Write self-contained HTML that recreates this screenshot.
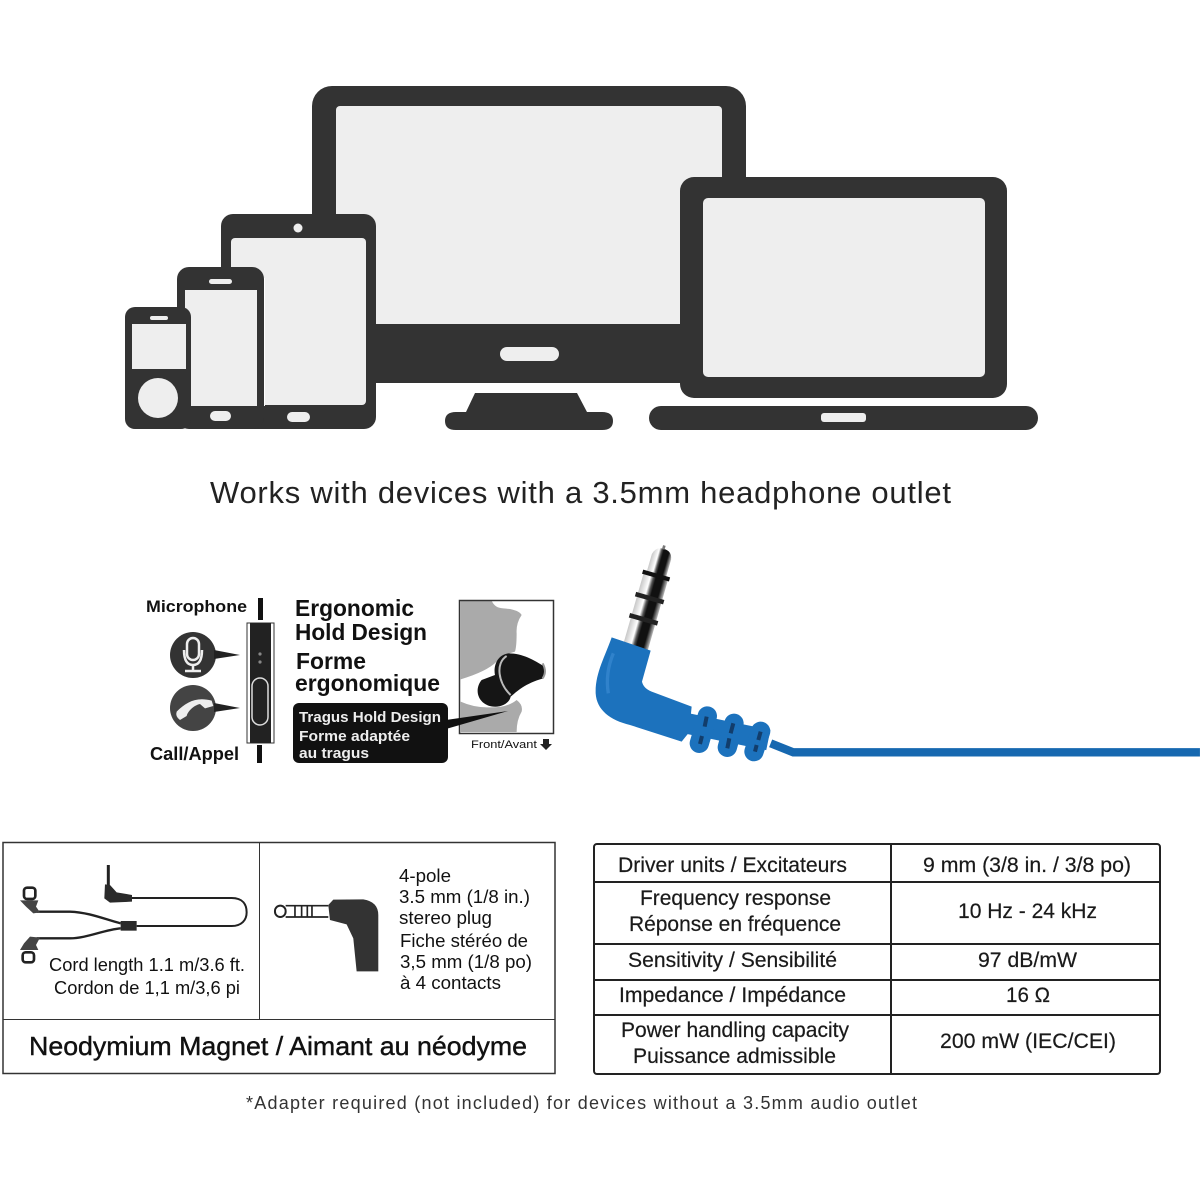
<!DOCTYPE html>
<html><head><meta charset="utf-8"><style>
html,body{margin:0;padding:0;background:#fff}
svg{display:block}
text{font-family:"Liberation Sans",sans-serif;fill:#111}
.b{font-weight:bold}
.t{font-size:21px;fill:#1a1a1a;stroke:#1a1a1a;stroke-width:.2}
</style></head><body>
<svg width="1200" height="1200" viewBox="0 0 1200 1200" xmlns="http://www.w3.org/2000/svg">
<defs>
<linearGradient id="m" x1="0" x2="1" y1="0" y2="0"><stop offset="0" stop-color="#c8c8c8"/><stop offset=".3" stop-color="#fff"/><stop offset=".42" stop-color="#555"/><stop offset=".52" stop-color="#111"/><stop offset=".8" stop-color="#111"/><stop offset="1" stop-color="#bbb"/></linearGradient>
</defs>
<rect width="1200" height="1200" fill="#fff"/>
<!-- monitor -->
<rect x="312" y="86" width="434" height="297" rx="20" fill="#333"/>
<rect x="336" y="106" width="386" height="218" rx="4" fill="#eee"/>
<rect x="500" y="347" width="59" height="14" rx="7" fill="#eee"/>
<path d="M475 393H577L587 412H602Q613 412 613 421 613 430 602 430H456Q445 430 445 421 445 412 456 412H466Z" fill="#333"/>
<!-- laptop -->
<rect x="680" y="177" width="327" height="221" rx="14" fill="#333"/>
<rect x="703" y="198" width="282" height="179" rx="5" fill="#eee"/>
<rect x="649" y="406" width="389" height="24" rx="12" fill="#333"/>
<rect x="821" y="413" width="45" height="9" rx="3" fill="#eee"/>
<!-- tablet -->
<rect x="221" y="214" width="155" height="215" rx="12" fill="#333"/>
<rect x="231" y="238" width="135" height="167" rx="4" fill="#eee"/>
<circle cx="298" cy="228" r="4.5" fill="#eee"/>
<rect x="287" y="412" width="23" height="10" rx="5" fill="#eee"/>
<!-- phone -->
<rect x="177" y="267" width="87" height="162" rx="12" fill="#333"/>
<rect x="264" y="278" width="1" height="128" fill="#fff"/>
<rect x="185" y="290" width="72" height="116" fill="#eee"/>
<rect x="209" y="279" width="23" height="5" rx="2.500" fill="#eee"/>
<rect x="210" y="411" width="21" height="10" rx="5" fill="#eee"/>
<!-- ipod -->
<rect x="125" y="307" width="66" height="122" rx="10" fill="#333"/>
<rect x="132" y="324" width="54" height="45" fill="#eee"/>
<rect x="150" y="316" width="18" height="4" rx="2" fill="#eee"/>
<circle cx="158" cy="398" r="20" fill="#eee"/>

<text x="210" y="503" font-size="31" textLength="741" lengthAdjust="spacing" style="fill:#222">Works with devices with a 3.5mm headphone outlet</text>

<!-- mic / call -->
<text class="b" x="146" y="612" font-size="17" textLength="101" lengthAdjust="spacingAndGlyphs">Microphone</text>
<text class="b" x="150" y="760" font-size="18" textLength="89" lengthAdjust="spacingAndGlyphs">Call/Appel</text>
<rect x="258" y="598" width="5" height="22" fill="#111"/>
<rect x="257" y="745" width="5" height="18" fill="#111"/>
<circle cx="193" cy="655" r="23" fill="#333"/>
<path d="M214 650L240 655 214 659Z" fill="#222"/>
<rect x="187" y="638" width="12" height="22" rx="6" fill="none" stroke="#eee" stroke-width="2.500"/>
<path d="M184 650Q184 665 193 665 202 665 202 650M193 665V670M185 671H201" fill="none" stroke="#eee" stroke-width="2.500"/>
<circle cx="193" cy="708" r="23" fill="#444"/>
<path d="M214 703L240 708 214 712Z" fill="#222"/>
<g transform="translate(120 580) scale(.3333)">
<path d="M170 395C200 365 230 350 275 362L280 378 255 385 240 372C225 375 205 390 200 408L180 420Q165 410 170 395Z" fill="#eee"/>
<!-- ear -->
<path d="M1022 62H1115Q1125 85 1150 85 1195 88 1205 105 1188 130 1190 160 1190 200 1185 215 1150 225 1130 245 1100 275 1022 298Z" fill="#aaa"/>
<path d="M1022 365Q1060 382 1100 382 1160 385 1190 360 1210 375 1205 395 1190 420 1190 456H1022Z" fill="#aaa"/>
<path d="M1165 220C1130 225 1120 260 1125 285L1085 300C1060 330 1075 375 1120 380 1150 382 1170 365 1172 350 1190 335 1215 310 1270 295L1275 260C1240 240 1210 220 1165 220Z" fill="#151515"/>
<path d="M1160 228C1125 250 1135 310 1172 345" fill="none" stroke="#bbb" stroke-width="6"/>
<path d="M1268 250Q1282 275 1268 295" fill="none" stroke="#999" stroke-width="6"/>
</g>
<rect x="247" y="623" width="27" height="120" fill="#fff" stroke="#333" stroke-width="1"/>
<rect x="250" y="623" width="21" height="120" fill="#222"/>
<circle cx="260" cy="654" r="1.600" fill="#888"/><circle cx="260" cy="662" r="1.600" fill="#888"/>
<rect x="252" y="678" width="16" height="47" rx="8" fill="#222" stroke="#ddd" stroke-width="1.500"/>
<text class="b" x="295" y="616" font-size="23" textLength="119" lengthAdjust="spacingAndGlyphs">Ergonomic</text>
<text class="b" x="295" y="640" font-size="23" textLength="132" lengthAdjust="spacingAndGlyphs">Hold Design</text>
<text class="b" x="296" y="669" font-size="23" textLength="70" lengthAdjust="spacingAndGlyphs">Forme</text>
<text class="b" x="295" y="691" font-size="23" textLength="145" lengthAdjust="spacingAndGlyphs">ergonomique</text>
<rect x="459.500" y="600.500" width="94" height="133" fill="none" stroke="#333" stroke-width="1.500"/>
<rect x="293" y="703" width="155" height="60" rx="6" fill="#111"/>
<path d="M446 720L508 711 446 729Z" fill="#111"/>
<text class="b" x="299" y="722" font-size="15" textLength="142" lengthAdjust="spacingAndGlyphs" style="fill:#eee">Tragus Hold Design</text>
<text class="b" x="299" y="741" font-size="15" textLength="111" lengthAdjust="spacingAndGlyphs" style="fill:#eee">Forme adaptée</text>
<text class="b" x="299" y="758" font-size="15" textLength="70" lengthAdjust="spacingAndGlyphs" style="fill:#eee">au tragus</text>
<text x="471" y="748" font-size="11" textLength="66" lengthAdjust="spacingAndGlyphs">Front/Avant</text>
<path d="M543 739H549V744H552L546 750 540 744H543Z" fill="#222"/>

<!-- jack -->
<g transform="translate(580 530) scale(.3333)">
<g transform="rotate(16 170 340)">
<path d="M132 350V125H208V350Z" fill="url(#m)"/>
<path d="M140 125V70Q145 45 170 45 196 45 200 70V125Z" fill="url(#m)"/>
<rect x="128" y="122" width="84" height="13" fill="#111"/>
<rect x="126" y="192" width="88" height="14" fill="#222"/>
<rect x="126" y="258" width="88" height="14" fill="#222"/>
<rect x="165" y="35" width="8" height="12" fill="#777"/>
</g>
<path d="M95 322L212 362 186 455Q190 475 215 485L335 530 332 560 345 585 305 635 150 585C90 570 50 540 47 490 45 430 75 380 95 322Z" fill="#1c72bd"/>
<path d="M320 580L565 630" stroke="#1c72bd" stroke-width="62" fill="none"/>
<path d="M382 558L358 640M462 580L442 652M542 604L522 665" stroke="#1c72bd" stroke-width="58" stroke-linecap="round" fill="none"/>
<path d="M380 560L374 590M366 618L360 642M460 580L452 610M448 625L442 655M542 605L535 630M530 645L525 665" stroke="#123d6b" stroke-width="12" fill="none"/>
<path d="M572 640L640 667H1860" stroke="#1668b0" stroke-width="25" fill="none"/>
<path d="M100 370Q75 430 85 490" stroke="#3d8ed4" stroke-width="10" fill="none" opacity=".6"/>
</g>

<!-- left table -->
<rect x="3" y="842.500" width="552" height="231" fill="none" stroke="#333" stroke-width="1.500"/>
<path d="M259.500 843V1019M3 1019.500H555" stroke="#333" stroke-width="1" fill="none"/>
<g transform="translate(0 835) scale(.3333)" fill="#2a2a2a">
<path d="M325 90V150" stroke="#222" stroke-width="9" fill="none"/>
<path d="M315 148L330 150 350 172 396 180V200L330 203 313 190Z"/>
<path d="M396 189H695C730 189 740 210 740 232 740 255 725 273 695 273H410" stroke="#222" stroke-width="6" fill="none"/>
<rect x="362" y="258" width="48" height="29"/>
<path d="M362 265C320 255 270 232 210 230H110M362 280C310 285 260 310 210 310H110" stroke="#222" stroke-width="7" fill="none"/>
<rect x="72" y="158" width="34" height="34" rx="9" fill="none" stroke="#222" stroke-width="8"/>
<path d="M60 196H115L108 215 120 232 100 235 78 215Z" fill="#444"/>
<rect x="68" y="352" width="34" height="30" rx="9" fill="none" stroke="#222" stroke-width="8"/>
<path d="M60 345H115L108 330 120 308 90 305 72 325Z" fill="#444"/>
<rect x="825" y="212" width="32" height="34" rx="16" fill="none" stroke="#222" stroke-width="6"/>
<path d="M857 212H985M857 246H985M885 212V246M905 212V246M922 212V246M936 212V246" stroke="#222" stroke-width="5" fill="none"/>
<path d="M985 210L1000 194 1090 193Q1135 200 1135 240V409H1070L1060 310 1040 268 990 255Z" fill="#333"/>
</g>
<g font-size="18">
<text x="49" y="971" textLength="196" lengthAdjust="spacingAndGlyphs">Cord length 1.1 m/3.6 ft.</text>
<text x="54" y="994" textLength="186" lengthAdjust="spacingAndGlyphs">Cordon de 1,1 m/3,6 pi</text>
<text x="399" y="882" textLength="52" lengthAdjust="spacingAndGlyphs">4-pole</text>
<text x="399" y="903" textLength="131" lengthAdjust="spacingAndGlyphs">3.5 mm (1/8 in.)</text>
<text x="399" y="924" textLength="93" lengthAdjust="spacingAndGlyphs">stereo plug</text>
<text x="400" y="947" textLength="128" lengthAdjust="spacingAndGlyphs">Fiche stéréo de</text>
<text x="400" y="968" textLength="132" lengthAdjust="spacingAndGlyphs">3,5 mm (1/8 po)</text>
<text x="400" y="989" textLength="101" lengthAdjust="spacingAndGlyphs">à 4 contacts</text>
</g>
<text x="29" y="1055" font-size="26" textLength="498" lengthAdjust="spacingAndGlyphs" style="stroke:#111;stroke-width:.4">Neodymium Magnet / Aimant au néodyme</text>

<!-- right table -->
<rect x="594" y="844" width="566" height="230" rx="3" fill="none" stroke="#222" stroke-width="2"/>
<path d="M891 844V1074M594 882H1160M594 944H1160M594 980H1160M594 1015H1160" stroke="#222" stroke-width="2" fill="none"/>
<text class="t" x="618" y="872" textLength="229" lengthAdjust="spacingAndGlyphs">Driver units / Excitateurs</text>
<text class="t" x="923" y="872" textLength="208" lengthAdjust="spacingAndGlyphs">9 mm (3/8 in. / 3/8 po)</text>
<text class="t" x="640" y="905" textLength="191" lengthAdjust="spacingAndGlyphs">Frequency response</text>
<text class="t" x="629" y="931" textLength="212" lengthAdjust="spacingAndGlyphs">Réponse en fréquence</text>
<text class="t" x="958" y="918" textLength="139" lengthAdjust="spacingAndGlyphs">10 Hz - 24 kHz</text>
<text class="t" x="628" y="967" textLength="209" lengthAdjust="spacingAndGlyphs">Sensitivity / Sensibilité</text>
<text class="t" x="978" y="967" textLength="99" lengthAdjust="spacingAndGlyphs">97 dB/mW</text>
<text class="t" x="619" y="1002" textLength="227" lengthAdjust="spacingAndGlyphs">Impedance / Impédance</text>
<text class="t" x="1006" y="1002" textLength="44" lengthAdjust="spacingAndGlyphs">16 Ω</text>
<text class="t" x="621" y="1037" textLength="228" lengthAdjust="spacingAndGlyphs">Power handling capacity</text>
<text class="t" x="633" y="1063" textLength="203" lengthAdjust="spacingAndGlyphs">Puissance admissible</text>
<text class="t" x="940" y="1048" textLength="176" lengthAdjust="spacingAndGlyphs">200 mW (IEC/CEI)</text>
<text x="246" y="1109" font-size="18" textLength="671" lengthAdjust="spacing" style="fill:#333">*Adapter required (not included) for devices without a 3.5mm audio outlet</text>
</svg>
</body></html>
